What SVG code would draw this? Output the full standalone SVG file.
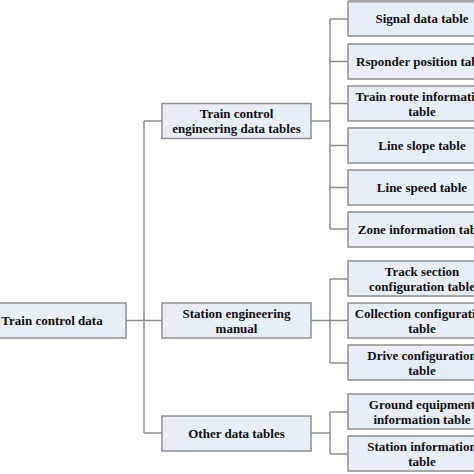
<svg xmlns="http://www.w3.org/2000/svg" width="474" height="474" viewBox="0 0 474 474">
<style>
.box{fill:#e8eef7;stroke:#8e8e8e;stroke-width:1.5}
.t{font-family:"Liberation Serif","Times New Roman",serif;font-weight:bold;font-size:13px;fill:#111;text-anchor:middle}
.c{fill:none;stroke:#8e8e8e;stroke-width:1.5}
</style>
<rect width="474" height="474" fill="#fff"/>
<g id="connectors">
<path class="c" d="M126 320.5H162M144 121V433M144 121H162M144 433H162"/>
<path class="c" d="M311 121H330M330 19V229M330 19H348M330 61.5H348M330 103.5H348M330 145.5H348M330 187.5H348M330 229H348"/>
<path class="c" d="M311 320.5H330M330 279V363M330 279H348M330 320.5H348M330 363H348"/>
<path class="c" d="M311 433H330M330 412V454M330 412H348M330 454H348"/>
</g>
<g id="n-root"><rect class="box" x="-22" y="303" width="148" height="35"/><text class="t" x="52" y="325">Train control data</text></g>
<g id="n-tce"><rect class="box" x="162" y="103.5" width="149" height="35"/><text class="t" x="236.5" y="118">Train control</text><text class="t" x="236.5" y="133">engineering data tables</text></g>
<g id="n-sem"><rect class="box" x="162" y="303" width="149" height="35"/><text class="t" x="236.5" y="318">Station  engineering</text><text class="t" x="236.5" y="333">manual</text></g>
<g id="n-odt"><rect class="box" x="162" y="416" width="149" height="35"/><text class="t" x="236.5" y="438">Other data tables</text></g>
<g id="n-signal"><rect class="box" x="348" y="1.5" width="148" height="34.5"/><rect x="348" y="0" width="126" height="2.5" fill="#a8a8a8"/><text class="t" x="422" y="23">Signal data table</text></g>
<g id="n-rsp"><rect class="box" x="348" y="44" width="148" height="35"/><text class="t" x="422" y="66">Rsponder position table</text></g>
<g id="n-route"><rect class="box" x="348" y="86" width="148" height="35"/><text class="t" x="422" y="101">Train route information</text><text class="t" x="422" y="116">table</text></g>
<g id="n-slope"><rect class="box" x="348" y="128" width="148" height="35"/><text class="t" x="422" y="150">Line slope table</text></g>
<g id="n-speed"><rect class="box" x="348" y="170" width="148" height="35"/><text class="t" x="422" y="192">Line speed table</text></g>
<g id="n-zone"><rect class="box" x="348" y="212" width="148" height="35"/><text class="t" x="422" y="234">Zone information table</text></g>
<g id="n-track"><rect class="box" x="348" y="261" width="148" height="35"/><text class="t" x="422" y="276">Track section</text><text class="t" x="422" y="291">configuration table</text></g>
<g id="n-coll"><rect class="box" x="348" y="303" width="148" height="35"/><text class="t" x="422" y="318">Collection configuration</text><text class="t" x="422" y="333">table</text></g>
<g id="n-drive"><rect class="box" x="348" y="345" width="148" height="35"/><text class="t" x="422" y="360">Drive configuration</text><text class="t" x="422" y="375">table</text></g>
<g id="n-ground"><rect class="box" x="348" y="394" width="148" height="35"/><text class="t" x="422" y="409">Ground equipment</text><text class="t" x="422" y="424">information table</text></g>
<g id="n-station"><rect class="box" x="348" y="436" width="148" height="35"/><text class="t" x="422" y="451">Station information</text><text class="t" x="422" y="466">table</text></g>
</svg>
